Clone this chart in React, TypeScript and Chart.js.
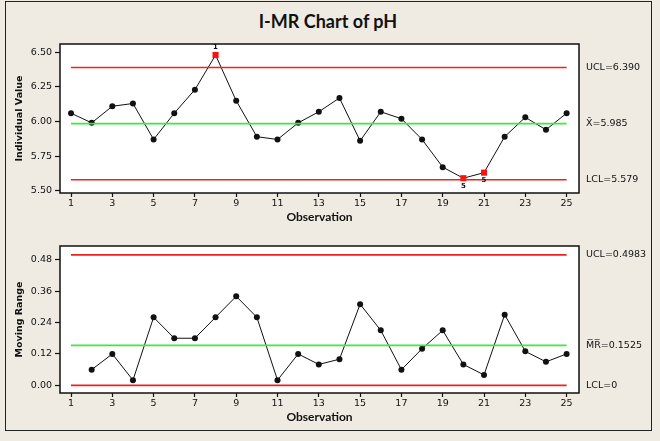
import React, { useEffect, useRef } from "react";
import { Chart, registerables } from "chart.js";

Chart.register(...registerables);

// ---------- data ----------
const observations = [1, 2, 3, 4, 5, 6, 7, 8, 9, 10, 11, 12, 13, 14, 15, 16, 17, 18, 19, 20, 21, 22, 23, 24, 25];
const individualValues = [6.06, 5.99, 6.11, 6.13, 5.87, 6.06, 6.23, 6.48, 6.15, 5.89, 5.87, 5.99, 6.07, 6.17, 5.86, 6.07, 6.02, 5.87, 5.67, 5.59, 5.63, 5.89, 6.03, 5.94, 6.06];
const movingRanges = [null, 0.06, 0.12, 0.02, 0.26, 0.18, 0.18, 0.26, 0.34, 0.26, 0.02, 0.12, 0.08, 0.10, 0.31, 0.21, 0.06, 0.14, 0.21, 0.08, 0.04, 0.27, 0.13, 0.09, 0.12];

const xTickValues = [1, 3, 5, 7, 9, 11, 13, 15, 17, 19, 21, 23, 25];
const iTickValues = [5.5, 5.75, 6.0, 6.25, 6.5];
const mrTickValues = [0, 0.12, 0.24, 0.36, 0.48];

const iLimitValues = [6.39, 5.985, 5.579]; // UCL, mean, LCL
const iLimitLabels = ["UCL=6.390", "X\u0304=5.985", "LCL=5.579"];
const mrLimitValues = [0.4983, 0.1525, 0]; // UCL, mean, LCL
const mrLimitLabels = ["UCL=0.4983", "M\u0305R\u0305=0.1525", "LCL=0"];

const flaggedObs = [8, 20, 21];
const flagLabels = ["1", "5", "5"];
const flagAbove = [true, false, false];

// ---------- styles ----------
const RED = "#ee2020";
const GREEN = "#3fe83f";
const BG = "#efebe2";
const TICK_FONT = { family: "DejaVu Sans", size: 9.5 };

const boxPlugin = {
  id: "plotBox",
  beforeDraw(chart: any) {
    const { ctx, chartArea: a } = chart;
    ctx.save();
    ctx.fillStyle = "#ffffff";
    ctx.fillRect(a.left, a.top, a.right - a.left, a.bottom - a.top);
    ctx.restore();
  },
  afterDraw(chart: any) {
    const { ctx, chartArea: a } = chart;
    const o = chart.options.plugins.plotBox || {};
    ctx.save();
    ctx.strokeStyle = "#111";
    ctx.lineWidth = 1.5;
    ctx.strokeRect(a.left, a.top, a.right - a.left, a.bottom - a.top);
    // right side limit labels
    const ys = chart.scales.y;
    ctx.fillStyle = "#111";
    ctx.font = "9.5px 'DejaVu Sans'";
    ctx.textBaseline = "middle";
    ctx.textAlign = "left";
    (o.limitValues || []).forEach((v: number, i: number) => {
      ctx.fillText(o.limitLabels[i], a.right + 7, ys.getPixelForValue(v));
    });
    // axis titles
    ctx.font = "bold 12px 'Lato'";
    ctx.textAlign = "center";
    ctx.fillText("Observation", (a.left + a.right) / 2, a.bottom + 24);
    ctx.save();
    ctx.translate(20, (a.top + a.bottom) / 2);
    ctx.rotate(-Math.PI / 2);
    ctx.font = "bold 9.5px 'DejaVu Sans'";
    ctx.fillText(o.yTitle || "", 0, 0);
    ctx.restore();
    // test flags
    if (o.flags) {
      const xs = chart.scales.x;
      ctx.font = "bold 7px 'DejaVu Sans'";
      ctx.textAlign = "center";
      flaggedObs.forEach((ob, i) => {
        const val = individualValues[observations.indexOf(ob)];
        const px = xs.getPixelForValue(ob);
        const py = ys.getPixelForValue(val);
        ctx.fillText(flagLabels[i], px, flagAbove[i] ? py - 8 : py + 8);
      });
    }
    ctx.restore();
  },
};

function limitDataset(v: number, color: string, width: number) {
  return {
    data: [
      { x: observations[0], y: v },
      { x: observations[observations.length - 1], y: v },
    ],
    borderColor: color,
    borderWidth: width,
    pointRadius: 0,
    fill: false,
  };
}

function makeConfig(kind: "i" | "mr") {
  const values = kind === "i" ? individualValues : movingRanges;
  const limits = kind === "i" ? iLimitValues : mrLimitValues;
  const yTicks = kind === "i" ? iTickValues : mrTickValues;
  const isFlag = (ob: number) => kind === "i" && flaggedObs.includes(ob);
  return {
    type: "line",
    data: {
      datasets: [
        limitDataset(limits[0], RED, 1.6),
        limitDataset(limits[1], GREEN, 1.8),
        limitDataset(limits[2], RED, 1.6),
        {
          data: observations.map((ob, i) => ({ x: ob, y: values[i] })),
          borderColor: "#111",
          borderWidth: 1,
          pointStyle: observations.map((ob) => (isFlag(ob) ? "rect" : "circle")),
          pointRadius: observations.map((ob) => (isFlag(ob) ? 4.3 : 3)),
          pointBackgroundColor: observations.map((ob) => (isFlag(ob) ? "#ff1010" : "#111")),
          pointBorderWidth: 0,
          spanGaps: false,
          fill: false,
        },
      ],
    },
    options: {
      animation: false,
      responsive: false,
      maintainAspectRatio: false,
      layout: {
        padding: kind === "i" ? { top: 44, right: 81, bottom: 0, left: 0 } : { top: 24, right: 81, bottom: 19, left: 0 },
      },
      plugins: {
        legend: { display: false },
        tooltip: { enabled: false },
        title: { display: false },
        plotBox: {
          limitValues: limits,
          limitLabels: kind === "i" ? iLimitLabels : mrLimitLabels,
          yTitle: kind === "i" ? "Individual Value" : "Moving Range",
          flags: kind === "i",
        },
      },
      scales: {
        x: {
          type: "linear",
          min: 0.467,
          max: 25.6,
          afterBuildTicks: (s: any) => {
            s.ticks = xTickValues.map((v) => ({ value: v }));
          },
          afterFit: (s: any) => {
            s.height = 29;
          },
          grid: { display: true, drawOnChartArea: false, drawTicks: true, tickLength: 4, color: "#111", tickWidth: 1.2 },
          border: { display: false },
          ticks: { font: TICK_FONT, color: "#111", padding: 1, maxRotation: 0, autoSkip: false, callback: (v: any) => String(v) },
        },
        y: {
          type: "linear",
          min: kind === "i" ? 5.483 : -0.029,
          max: kind === "i" ? 6.56 : 0.532,
          afterBuildTicks: (s: any) => {
            s.ticks = yTicks.map((v) => ({ value: v }));
          },
          afterFit: (s: any) => {
            s.width = 60;
          },
          grid: { display: true, drawOnChartArea: false, drawTicks: true, tickLength: 5, color: "#111", tickWidth: 1.2 },
          border: { display: false },
          ticks: { font: TICK_FONT, color: "#111", padding: 3, autoSkip: false, callback: (v: any) => Number(v).toFixed(2) },
        },
      },
    },
    plugins: [boxPlugin],
  } as any;
}

function ChartCanvas({ kind, top, height }: { kind: "i" | "mr"; top: number; height: number }) {
  const ref = useRef<HTMLCanvasElement | null>(null);
  useEffect(() => {
    if (!ref.current) return;
    const chart = new Chart(ref.current, makeConfig(kind));
    return () => chart.destroy();
  }, [kind]);
  return (
    <canvas
      ref={ref}
      width={660}
      height={height}
      style={{ position: "absolute", left: 0, top, width: 660, height }}
    />
  );
}

export default function App() {
  return (
    <div style={{ position: "fixed", left: 0, top: 0, width: 660, height: 441, background: BG, overflow: "hidden" }}>
      <div
        style={{
          position: "absolute",
          left: 5,
          top: 1,
          width: 645,
          height: 428,
          border: "1.5px solid #222",
        }}
      />
      <div
        style={{
          position: "absolute",
          left: 0,
          top: 9,
          width: 656,
          textAlign: "center",
          font: "bold 18px Lato",
          color: "#111",
          lineHeight: "24px",
        }}
      >
        I-MR Chart of pH
      </div>
      <ChartCanvas kind="i" top={0} height={222} />
      <ChartCanvas kind="mr" top={222} height={219} />
    </div>
  );
}
